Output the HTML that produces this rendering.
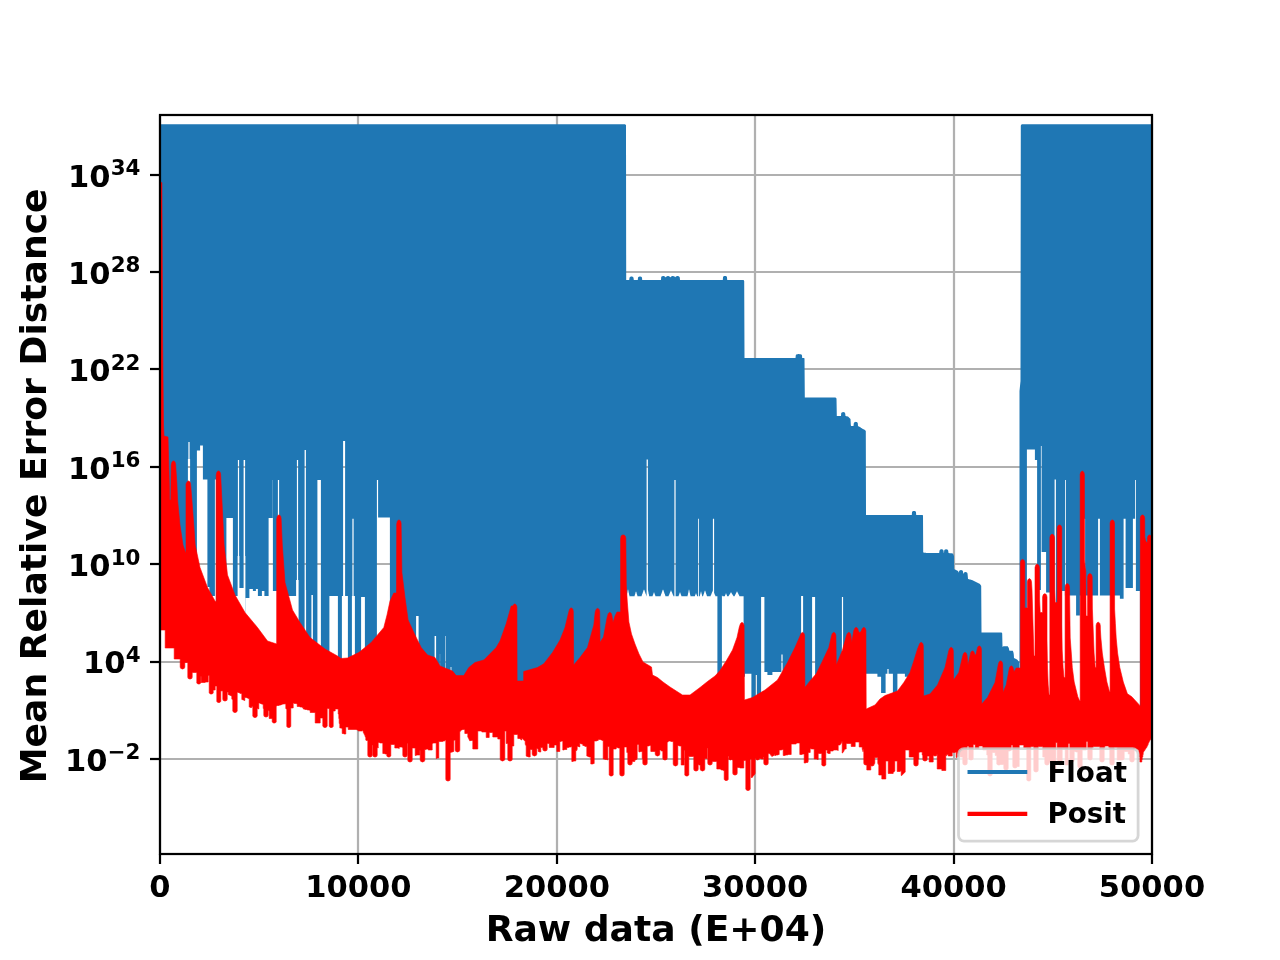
<!DOCTYPE html>
<html><head><meta charset="utf-8"><title>Mean Relative Error Distance</title>
<style>html,body{margin:0;padding:0;background:#fff}svg{display:block}</style></head>
<body>
<svg width="1280" height="960" viewBox="0 0 1280 960">
<defs><clipPath id="ax"><rect x="160" y="115.2" width="992" height="739.2"/></clipPath></defs>
<rect x="0" y="0" width="1280" height="960" fill="#fff"/>
<g stroke="#b0b0b0" stroke-width="2.22" fill="none">
<path d="M160 115V854"/>
<path d="M358 115V854"/>
<path d="M557 115V854"/>
<path d="M755 115V854"/>
<path d="M954 115V854"/>
<path d="M1152 115V854"/>
<path d="M160 759H1152"/>
<path d="M160 662H1152"/>
<path d="M160 564H1152"/>
<path d="M160 467H1152"/>
<path d="M160 369H1152"/>
<path d="M160 272H1152"/>
<path d="M160 175H1152"/>
</g>
<g clip-path="url(#ax)">
<g fill="#1f77b4">
<path d="M158 124.2 L625.2 124.2 L625.5 124.8 L626 125.2 L626.2 280 L629.2 280 L629.5 277.8 L629.8 277.2 L630.2 276.8 L630.8 276.8 L631 276.5 L632 276.5 L632.2 276.8 L632.8 276.8 L633.2 277.2 L633.5 277.8 L633.8 280 L637.8 280 L638 277.8 L638.2 277.2 L638.8 276.8 L639.2 276.8 L639.5 276.5 L640.5 276.5 L640.8 276.8 L641.2 276.8 L641.8 277.2 L642 277.8 L642.2 280 L661 280 L661.2 277 L661.5 276.8 L661.8 276.2 L662.5 276.2 L662.8 276 L663.8 276 L664 276.2 L664.5 276.2 L665.5 277.2 L665.8 277.2 L666.8 276.2 L667.2 276.2 L667.5 276 L668.5 276 L668.8 276.2 L669.2 276.2 L670.2 277.2 L670.5 277.2 L671.5 276.2 L672 276.2 L672.2 276 L673.2 276 L673.5 276.2 L674.2 276.2 L675.2 277.2 L676.2 276.2 L677 276.2 L677.2 276 L678 276 L678.2 276.2 L679 276.2 L679.2 276.8 L679.5 277 L679.8 277.5 L680 280 L722.8 280 L723 277.2 L723.5 276.2 L724 276.2 L724.2 276 L724.8 276 L725 275.8 L725.2 276 L725.8 276 L726 276.2 L726.5 276.2 L727 277.2 L727.2 280 L743.5 280 L743.8 280.2 L744 280.8 L744.2 281 L744.5 358 L795.5 358 L795.8 355.2 L796 354.8 L796.2 354.5 L796.8 354.5 L797 354.2 L798 354.2 L798.2 354 L799.2 354 L799.5 354.2 L800.8 354.2 L801 354.5 L801.5 354.5 L802 355.5 L802.2 358 L804.2 358 L804.5 358.8 L804.8 397.5 L835.5 397.5 L836.5 398.5 L836.8 416 L841 416 L841.2 413.2 L841.5 412.8 L841.8 412.5 L842 412.5 L842.2 412.2 L842.8 412.2 L843 412 L843.5 412 L843.8 412.2 L844.2 412.2 L844.5 412.5 L844.8 412.5 L845.2 413.5 L845.5 416 L845.8 416 L846 416.2 L847.2 416.2 L847.5 416.5 L848 416.5 L850.5 419 L850.8 424.8 L851 426 L853.5 426 L853.8 423.2 L854 422.8 L854.5 422.2 L854.8 422.2 L855 422 L855.5 422 L855.8 421.8 L856 421.8 L856.2 422 L856.8 422 L857 422.2 L857.2 422.2 L857.8 423.2 L858 426 L858.2 426.2 L858.5 426.2 L858.8 426.5 L859 426.5 L859.2 426.8 L859.5 426.8 L859.8 427 L860 427 L860.5 427.5 L860.8 427.5 L861.2 428 L861.5 428 L862 428.5 L862.2 428.5 L862.8 429 L863.2 429 L863.8 429.5 L864.2 429.5 L864.8 430 L865 430 L865.2 430.2 L865.5 430.8 L865.8 431 L866 515 L911.8 515 L912 512.2 L912.5 511.2 L913 511.2 L913.2 511 L913.8 511 L914 510.8 L914.2 511 L914.8 511 L915 511.2 L915.5 511.2 L916 512.2 L916.2 515 L922.5 515 L922.8 515.2 L923 515.8 L923.2 552.5 L924 552.5 L924.2 552.8 L926 552.8 L926.2 553 L939.2 553 L939.5 550.5 L939.8 550.2 L940 549.8 L940.2 549.5 L940.8 549.5 L941 549.2 L942 549.2 L942.2 549.5 L942.8 549.5 L943 549.8 L943.2 550.2 L943.5 550.5 L943.8 553 L944 553 L944.2 550.5 L944.5 550 L945 549.5 L945.5 549.5 L945.8 549.2 L946.5 549.2 L946.8 549.5 L947.2 549.5 L947.5 549.8 L947.8 549.8 L948.2 550.8 L948.5 553 L949.2 553 L949.5 553.2 L951.8 553.2 L952 553.5 L953 553.5 L953.2 554 L953.8 555.5 L954 556 L954.2 569 L954.8 569.5 L955.2 569.5 L955.8 570 L956.2 570 L956.8 570.5 L957.2 570.5 L957.8 571 L958 571 L958.5 572 L958.8 572.8 L959 571.5 L959.5 570.5 L959.8 570.5 L960 570.2 L960.5 570.2 L960.8 570 L961.2 570 L961.5 570.2 L962 570.2 L962.2 570.5 L962.5 570.5 L963 571.5 L963.2 574 L964 572.5 L964.2 572.5 L964.5 572.2 L965 572.2 L965.2 572 L965.8 572 L966 572.2 L966.5 572.2 L966.8 572.5 L967 572.5 L967.5 573.5 L967.8 576.5 L968 579 L968.5 579 L968.8 579.2 L969.2 579.2 L969.5 579.5 L970.5 579.5 L970.8 579.8 L971.2 579.8 L971.5 580 L972.2 580 L972.8 580.5 L973.2 580.5 L973.8 581 L974.2 581 L974.8 581.5 L975.2 581.5 L975.8 582 L976.2 582 L976.8 582.5 L977.2 582.5 L977.8 583 L978.2 583 L978.8 583.5 L979.2 583.5 L979.8 584 L980 584 L980.2 584.5 L980.5 584.8 L980.8 585.2 L981 585.5 L981.2 586 L981.5 632.5 L1001.5 632.5 L1002 633 L1002.2 633.5 L1002.5 647 L1003 646.5 L1003.2 646.5 L1003.5 646.2 L1007.8 646.2 L1008 646.8 L1008.2 647 L1008.8 648 L1009.2 650 L1009.5 650.8 L1012.8 650.8 L1013 651.2 L1013.5 652.8 L1013.8 654.8 L1014 658 L1014.2 658 L1014.8 658.5 L1015.2 658.5 L1015.8 659 L1016.2 659 L1016.8 659.5 L1017 659.5 L1018 660.5 L1018.2 661 L1019.2 662 L1019.2 675 L1017.4 675 L1017.4 678 L1011.9 678 L1011.9 672 L1010.6 672 L1010.6 678 L1009.4 678 L1009.4 684 L1008.4 684 L1008.4 690 L1007.1 690 L1007.1 696 L1004.4 696 L1004.4 702 L1004.1 702 L1004.1 696 L1003.1 696 L1003.1 702 L1002.9 702 L1002.9 696 L1002.1 696 L1002.1 702 L1001.9 702 L1001.9 696 L1001.6 696 L1001.6 672 L1000.9 672 L1000.9 666 L1000.4 666 L1000.4 672 L998.9 672 L998.9 678 L997.9 678 L997.9 684 L996.6 684 L996.6 690 L994.4 690 L994.4 696 L991.4 696 L991.4 702 L988.4 702 L988.4 708 L980.4 708 L980.4 666 L980.1 666 L980.1 654 L978.1 654 L978.1 660 L971.1 660 L971.1 666 L969.9 666 L969.9 672 L968.9 672 L968.9 666 L968.6 666 L968.6 672 L967.6 672 L967.6 666 L967.4 666 L967.4 672 L966.6 672 L966.6 666 L965.9 666 L965.9 660 L963.9 660 L963.9 666 L962.4 666 L962.4 675 L961.1 675 L961.1 678 L958.9 678 L958.9 684 L952.4 684 L952.4 672 L952.1 672 L952.1 660 L951.9 660 L951.9 654 L950.4 654 L950.4 660 L948.9 660 L948.9 666 L947.4 666 L947.4 672 L945.9 672 L945.9 678 L943.4 678 L943.4 684 L940.9 684 L940.9 690 L937.9 690 L937.9 696 L932.9 696 L932.9 702 L922.4 702 L922.4 678 L922.1 678 L922.1 654 L921.6 654 L921.6 648 L920.6 648 L920.6 654 L918.4 654 L918.4 660 L916.6 660 L916.6 666 L914.6 666 L914.6 672 L912.6 672 L912.6 678 L910.4 678 L910.4 684 L909.9 684 L909.9 676.8 L904.9 676.8 L904.9 673.8 L897.4 673.8 L897.4 696 L895.9 696 L895.9 702 L892.9 702 L892.9 673.8 L888.6 673.8 L888.6 669 L887.4 669 L887.4 673.8 L885.6 673.8 L885.6 693 L881.1 693 L881.1 676.8 L877.4 676.8 L877.4 673.8 L865.9 673.8 L865.9 714 L864.9 714 L864.9 648 L864.6 648 L864.6 636 L861.6 636 L861.6 642 L857.9 642 L857.9 636 L854.6 636 L854.6 642 L853.6 642 L853.6 648 L850.1 648 L850.1 642 L846.9 642 L846.9 648 L845.4 648 L845.4 654 L843.6 654 L843.6 660 L843.1 660 L843.1 597 L841.9 597 L841.9 660 L841.1 660 L841.1 666 L838.6 666 L838.6 672 L835.1 672 L835.1 666 L834.9 666 L834.9 648 L834.6 648 L834.6 642 L832.1 642 L832.1 648 L830.9 648 L830.9 654 L828.9 654 L828.9 660 L826.1 660 L826.1 666 L823.1 666 L823.1 675 L822.4 675 L822.4 672 L820.4 672 L820.4 678 L817.1 678 L817.1 684 L815.1 684 L815.1 597 L812.1 597 L812.1 690 L807.4 690 L807.4 696 L803.6 696 L803.6 660 L803.4 660 L803.4 642 L803.1 642 L803.1 596 L801.1 596 L801.1 642 L800.4 642 L800.4 648 L797.6 648 L797.6 654 L794.9 654 L794.9 660 L791.9 660 L791.9 666 L789.9 666 L789.9 672 L782.6 672 L782.6 654.5 L781.4 654.5 L781.4 672 L772.4 672 L772.4 675 L767.4 675 L767.4 672 L764.4 672 L764.4 597 L761.1 597 L761.1 702 L756.9 702 L756.9 675 L755.6 675 L755.6 702 L752.1 702 L752.1 708 L751.4 708 L751.4 673.8 L744.9 673.8 L744.9 676.8 L743.6 676.8 L743.6 596.2 L739.4 596.2 L739.4 595.8 L739.1 595.8 L739.1 595.2 L738.9 595.2 L738.9 594.8 L738.6 594.8 L738.6 594.2 L738.4 594.2 L738.4 593.8 L738.1 593.8 L738.1 593.2 L737.9 593.2 L737.9 592.8 L737.6 592.8 L737.6 592.2 L737.4 592.2 L737.4 591.8 L737.1 591.8 L737.1 591.2 L736.9 591.2 L736.9 591.8 L736.6 591.8 L736.6 592.2 L736.4 592.2 L736.4 592.8 L736.1 592.8 L736.1 593.2 L735.9 593.2 L735.9 593.8 L735.6 593.8 L735.6 594.2 L735.4 594.2 L735.4 594.8 L735.1 594.8 L735.1 595.2 L734.9 595.2 L734.9 595.8 L734.6 595.8 L734.6 596.2 L733.4 596.2 L733.4 595.8 L733.1 595.8 L733.1 595.5 L732.9 595.5 L732.9 595 L732.6 595 L732.6 594.5 L732.4 594.5 L732.4 594.2 L732.1 594.2 L732.1 593.8 L731.9 593.8 L731.9 593.5 L731.6 593.5 L731.6 593 L731.4 593 L731.4 592.5 L731.1 592.5 L731.1 592.2 L730.9 592.2 L730.9 592.5 L730.6 592.5 L730.6 593 L730.4 593 L730.4 593.5 L730.1 593.5 L730.1 593.8 L729.9 593.8 L729.9 594.2 L729.6 594.2 L729.6 594.5 L729.4 594.5 L729.4 595 L729.1 595 L729.1 595.5 L728.9 595.5 L728.9 595.8 L728.6 595.8 L728.6 596.2 L727.1 596.2 L727.1 595.8 L726.9 595.8 L726.9 595 L726.6 595 L726.6 594.5 L726.4 594.5 L726.4 593.8 L726.1 593.8 L726.1 593.2 L725.9 593.2 L725.9 593.8 L725.6 593.8 L725.6 594.5 L725.4 594.5 L725.4 595 L725.1 595 L725.1 595.8 L724.9 595.8 L724.9 596.2 L722.4 596.2 L722.4 595.8 L722.1 595.8 L722.1 595.5 L721.9 595.5 L721.9 678 L718.1 678 L718.1 684 L717.4 684 L717.4 596.2 L715.4 596.2 L715.4 595.5 L715.1 595.5 L715.1 595 L714.9 595 L714.9 594.5 L714.6 594.5 L714.6 593.8 L714.4 593.8 L714.4 593.2 L714.1 593.2 L714.1 518.8 L712.9 518.8 L712.9 590.8 L712.6 590.8 L712.6 591.5 L712.4 591.5 L712.4 592 L712.1 592 L712.1 592.5 L711.9 592.5 L711.9 593.2 L711.6 593.2 L711.6 593.8 L711.4 593.8 L711.4 594.5 L711.1 594.5 L711.1 595 L710.9 595 L710.9 595.5 L710.6 595.5 L710.6 596.2 L706.9 596.2 L706.9 595.5 L706.6 595.5 L706.6 594.8 L706.4 594.8 L706.4 594 L706.1 594 L706.1 593.2 L705.9 593.2 L705.9 592.5 L705.6 592.5 L705.6 591.8 L705.4 591.8 L705.4 591 L705.1 591 L705.1 590.2 L704.9 590.2 L704.9 591 L704.6 591 L704.6 591.8 L704.4 591.8 L704.4 592.5 L704.1 592.5 L704.1 593.2 L703.9 593.2 L703.9 594 L703.6 594 L703.6 594.8 L703.4 594.8 L703.4 595.5 L703.1 595.5 L703.1 596.2 L702.1 596.2 L702.1 595.2 L701.9 595.2 L701.9 594.2 L701.6 594.2 L701.6 593.2 L701.4 593.2 L701.4 592.2 L701.1 592.2 L701.1 591.2 L700.9 591.2 L700.9 592.2 L700.6 592.2 L700.6 593.2 L700.4 593.2 L700.4 594.2 L700.1 594.2 L700.1 595.2 L699.9 595.2 L699.9 596.2 L698.9 596.2 L698.9 518.8 L698.1 518.8 L698.1 596.2 L697.1 596.2 L697.1 595.8 L696.9 595.8 L696.9 595 L696.6 595 L696.6 594.5 L696.4 594.5 L696.4 593.8 L696.1 593.8 L696.1 593.2 L695.9 593.2 L695.9 593.8 L695.6 593.8 L695.6 594.5 L695.4 594.5 L695.4 595 L695.1 595 L695.1 595.8 L694.9 595.8 L694.9 596.2 L690.4 596.2 L690.4 595 L690.1 595 L690.1 593.8 L689.9 593.8 L689.9 592.8 L689.6 592.8 L689.6 591.5 L689.4 591.5 L689.4 590.2 L689.1 590.2 L689.1 589.2 L688.9 589.2 L688.9 590.2 L688.6 590.2 L688.6 591.5 L688.4 591.5 L688.4 592.8 L688.1 592.8 L688.1 593.8 L687.9 593.8 L687.9 595 L687.6 595 L687.6 596.2 L681.4 596.2 L681.4 595.5 L681.1 595.5 L681.1 594.8 L680.9 594.8 L680.9 594.2 L680.6 594.2 L680.6 593.5 L680.4 593.5 L680.4 592.8 L680.1 592.8 L680.1 592.2 L679.9 592.2 L679.9 592.8 L679.6 592.8 L679.6 593.5 L679.4 593.5 L679.4 594.2 L679.1 594.2 L679.1 594.8 L678.9 594.8 L678.9 595.5 L678.6 595.5 L678.6 596.2 L675.6 596.2 L675.6 480 L674.4 480 L674.4 596.2 L673.4 596.2 L673.4 595.5 L673.1 595.5 L673.1 595 L672.9 595 L672.9 594.5 L672.6 594.5 L672.6 593.8 L672.4 593.8 L672.4 593.2 L672.1 593.2 L672.1 592.5 L671.9 592.5 L671.9 592 L671.6 592 L671.6 591.5 L671.4 591.5 L671.4 590.8 L671.1 590.8 L671.1 590.2 L670.9 590.2 L670.9 590.8 L670.6 590.8 L670.6 591.5 L670.4 591.5 L670.4 592 L670.1 592 L670.1 592.5 L669.9 592.5 L669.9 593.2 L669.6 593.2 L669.6 593.8 L669.4 593.8 L669.4 594.5 L669.1 594.5 L669.1 595 L668.9 595 L668.9 595.5 L668.6 595.5 L668.6 596.2 L665.4 596.2 L665.4 595.5 L665.1 595.5 L665.1 594.8 L664.9 594.8 L664.9 594 L664.6 594 L664.6 593.5 L664.4 593.5 L664.4 592.8 L664.1 592.8 L664.1 592 L663.9 592 L663.9 591.2 L663.6 591.2 L663.6 590.5 L663.4 590.5 L663.4 590 L663.1 590 L663.1 589.2 L662.9 589.2 L662.9 590 L662.6 590 L662.6 590.5 L662.4 590.5 L662.4 591.2 L662.1 591.2 L662.1 592 L661.9 592 L661.9 592.8 L661.6 592.8 L661.6 593.5 L661.4 593.5 L661.4 594 L661.1 594 L661.1 594.8 L660.9 594.8 L660.9 595.5 L660.6 595.5 L660.6 596.2 L655.4 596.2 L655.4 595.5 L655.1 595.5 L655.1 594.8 L654.9 594.8 L654.9 594.2 L654.6 594.2 L654.6 593.5 L654.4 593.5 L654.4 592.8 L654.1 592.8 L654.1 592.2 L653.9 592.2 L653.9 592.8 L653.6 592.8 L653.6 593.5 L653.4 593.5 L653.4 594.2 L653.1 594.2 L653.1 594.8 L652.9 594.8 L652.9 595.5 L652.6 595.5 L652.6 596.2 L649.1 596.2 L649.1 595.2 L648.9 595.2 L648.9 594 L648.6 594 L648.6 592.8 L648.4 592.8 L648.4 591.5 L648.1 591.5 L648.1 590.2 L647.9 590.2 L647.9 459.5 L646.6 459.5 L646.6 596.2 L646.4 596.2 L646.4 595.5 L646.1 595.5 L646.1 594.8 L645.9 594.8 L645.9 594 L645.6 594 L645.6 593.5 L645.4 593.5 L645.4 592.8 L645.1 592.8 L645.1 592 L644.9 592 L644.9 591.2 L644.6 591.2 L644.6 590.5 L644.4 590.5 L644.4 590 L644.1 590 L644.1 589.2 L643.9 589.2 L643.9 590 L643.6 590 L643.6 590.5 L643.4 590.5 L643.4 591.2 L643.1 591.2 L643.1 592 L642.9 592 L642.9 592.8 L642.6 592.8 L642.6 593.5 L642.4 593.5 L642.4 594 L642.1 594 L642.1 594.8 L641.9 594.8 L641.9 595.5 L641.6 595.5 L641.6 596.2 L637.4 596.2 L637.4 595.2 L637.1 595.2 L637.1 594.5 L636.9 594.5 L636.9 593.8 L636.6 593.8 L636.6 592.8 L636.4 592.8 L636.4 592 L636.1 592 L636.1 591.2 L635.9 591.2 L635.9 592 L635.6 592 L635.6 592.8 L635.4 592.8 L635.4 593.8 L635.1 593.8 L635.1 594.5 L634.9 594.5 L634.9 595.2 L634.6 595.2 L634.6 596.2 L629.4 596.2 L629.4 595 L629.1 595 L629.1 593.8 L628.9 593.8 L628.9 592.8 L628.6 592.8 L628.6 591.5 L628.4 591.5 L628.4 590.2 L628.1 590.2 L628.1 589.2 L627.9 589.2 L627.9 590.2 L627.6 590.2 L627.6 591.5 L627.4 591.5 L627.4 592.8 L627.1 592.8 L627.1 593.8 L626.9 593.8 L626.9 595 L626.6 595 L626.6 596.2 L626.4 596.2 L626.4 612 L626.1 612 L626.1 606 L625.6 606 L625.6 600 L625.4 600 L625.4 594 L625.1 594 L625.1 582 L624.9 582 L624.9 558 L624.6 558 L624.6 546 L623.9 546 L623.9 540 L622.4 540 L622.4 546 L621.9 546 L621.9 618 L617.1 618 L617.1 624 L614.9 624 L614.9 630 L611.4 630 L611.4 624 L610.4 624 L610.4 618 L609.4 618 L609.4 624 L607.9 624 L607.9 630 L606.6 630 L606.6 636 L605.6 636 L605.6 642 L604.1 642 L604.1 648 L598.9 648 L598.9 642 L598.6 642 L598.6 618 L596.1 618 L596.1 624 L595.6 624 L595.6 630 L594.6 630 L594.6 636 L593.1 636 L593.1 642 L591.4 642 L591.4 648 L589.6 648 L589.6 654 L586.9 654 L586.9 660 L582.4 660 L582.4 666 L577.4 666 L577.4 675 L574.9 675 L574.9 672 L572.4 672 L572.4 636 L572.1 636 L572.1 618 L569.4 618 L569.4 624 L568.1 624 L568.1 630 L566.6 630 L566.6 636 L564.4 636 L564.4 642 L562.1 642 L562.1 648 L558.9 648 L558.9 654 L555.1 654 L555.1 660 L550.9 660 L550.9 666 L546.4 666 L546.4 672 L536.9 672 L536.9 678 L524.9 678 L524.9 690 L515.9 690 L515.9 630 L515.6 630 L515.6 612 L511.9 612 L511.9 618 L510.1 618 L510.1 624 L508.6 624 L508.6 630 L506.6 630 L506.6 636 L504.4 636 L504.4 642 L502.4 642 L502.4 648 L499.4 648 L499.4 654 L494.9 654 L494.9 660 L488.9 660 L488.9 666 L477.9 666 L477.9 672 L469.9 672 L469.9 675 L469.6 675 L469.6 678 L465.9 678 L465.9 684 L453.6 684 L453.6 678 L451.4 678 L451.4 667 L450.6 667 L450.6 678 L445.9 678 L445.9 636 L445.4 636 L445.4 678 L443.9 678 L443.9 672 L442.4 672 L442.4 675 L440.1 675 L440.1 654 L439.9 654 L439.9 675 L437.4 675 L437.4 672 L436.4 672 L436.4 666 L436.1 666 L436.1 636 L434.6 636 L434.6 666 L429.4 666 L429.4 660 L422.1 660 L422.1 654 L418.6 654 L418.6 616 L416.1 616 L416.1 648 L415.4 648 L415.4 642 L412.4 642 L412.4 636 L409.6 636 L409.6 630 L406.9 630 L406.9 624 L406.1 624 L406.1 618 L405.1 618 L405.1 612 L404.4 612 L404.4 606 L403.6 606 L403.6 600 L402.9 600 L402.9 594 L402.1 594 L402.1 588 L401.4 588 L401.4 582 L400.6 582 L400.6 570 L400.4 570 L400.4 552 L400.1 552 L400.1 534 L399.9 534 L399.9 528 L397.9 528 L397.9 582 L397.6 582 L397.6 600 L393.6 600 L393.6 606 L390.9 606 L390.9 612 L389.9 612 L389.9 517.5 L378.1 517.5 L378.1 480 L376.9 480 L376.9 642 L376.1 642 L376.1 648 L370.6 648 L370.6 654 L364.9 654 L364.9 597 L361.1 597 L361.1 660 L354.9 660 L354.9 596 L353.6 596 L353.6 518.8 L352.4 518.8 L352.4 596 L351.9 596 L351.9 666 L347.9 666 L347.9 596 L345.1 596 L345.1 441 L343.1 441 L343.1 596 L341.9 596 L341.9 666 L337.9 666 L337.9 596 L329.4 596 L329.4 660 L325.6 660 L325.6 654 L320.9 654 L320.9 480 L317.4 480 L317.4 648 L312.9 648 L312.9 595 L311.4 595 L311.4 648 L309.4 648 L309.4 642 L306.1 642 L306.1 590 L305.9 590 L305.9 450 L304.6 450 L304.6 636 L301.1 636 L301.1 630 L298.6 630 L298.6 580 L298.1 580 L298.1 460 L296.9 460 L296.9 580 L296.1 580 L296.1 596 L282.9 596 L282.9 576 L282.6 576 L282.6 570 L282.1 570 L282.1 564 L281.6 564 L281.6 558 L281.4 558 L281.4 552 L280.9 552 L280.9 546 L280.6 546 L280.6 540 L280.4 540 L280.4 534 L280.1 534 L280.1 528 L279.9 528 L279.9 522 L279.1 522 L279.1 480 L277.9 480 L277.9 648 L276.9 648 L276.9 591 L272.9 591 L272.9 518 L272.6 518 L272.6 480 L272.4 480 L272.4 518 L268.6 518 L268.6 596 L264.4 596 L264.4 591 L261.9 591 L261.9 596 L257.9 596 L257.9 589 L255.9 589 L255.9 591 L252.9 591 L252.9 589 L249.4 589 L249.4 598 L245.6 598 L245.6 624 L245.4 624 L245.4 556 L245.1 556 L245.1 460 L243.6 460 L243.6 588 L239.4 588 L239.4 556 L239.1 556 L239.1 460 L237.9 460 L237.9 556 L237.6 556 L237.6 596 L232.9 596 L232.9 518 L226.4 518 L226.4 582 L225.9 582 L225.9 576 L225.4 576 L225.4 570 L224.6 570 L224.6 564 L223.9 564 L223.9 558 L223.1 558 L223.1 552 L222.9 552 L222.9 546 L222.4 546 L222.4 540 L222.1 540 L222.1 534 L221.9 534 L221.9 528 L221.6 528 L221.6 522 L221.4 522 L221.4 516 L221.1 516 L221.1 510 L220.6 510 L220.6 504 L220.4 504 L220.4 498 L220.1 498 L220.1 492 L219.9 492 L219.9 486 L219.4 486 L219.4 480 L217.4 480 L217.4 606 L215.9 606 L215.9 479.5 L214.9 479.5 L214.9 596 L209.4 596 L209.4 587 L207.4 587 L207.4 479.5 L202.9 479.5 L202.9 445.5 L200.1 445.5 L200.1 450.5 L196.9 450.5 L196.9 564 L195.9 564 L195.9 558 L194.6 558 L194.6 552 L193.9 552 L193.9 546 L193.4 546 L193.4 540 L192.9 540 L192.9 534 L192.4 534 L192.4 528 L192.1 528 L192.1 522 L191.6 522 L191.6 516 L191.1 516 L191.1 510 L190.6 510 L190.6 504 L190.1 504 L190.1 459 L189.6 459 L189.6 442 L188.4 442 L188.4 459 L187.9 459 L187.9 492 L187.1 492 L187.1 558 L182.9 558 L182.9 552 L181.4 552 L181.4 546 L180.4 546 L180.4 540 L179.6 540 L179.6 534 L178.6 534 L178.6 528 L178.1 528 L178.1 522 L177.6 522 L177.6 516 L176.9 516 L176.9 510 L176.4 510 L176.4 504 L176.1 504 L176.1 498 L175.9 498 L175.9 492 L175.6 492 L175.6 486 L175.1 486 L175.1 480 L174.9 480 L174.9 474 L174.4 474 L174.4 468 L172.6 468 L172.6 474 L172.4 474 L172.4 486 L172.1 486 L172.1 504 L168.4 504 L168.4 498 L168.1 498 L168.1 486 L167.9 486 L167.9 480 L167.6 480 L167.6 468 L167.4 468 L167.4 462 L167.1 462 L167.1 450 L166.9 450 L166.9 444 L162.6 444 L162.6 438 L162.4 438 L162.4 426 L162.1 426 L162.1 402 L161.9 402 L161.9 378 L161.6 378 L161.6 354 L161.4 354 L161.4 312 L161.1 312 L161.1 258 L160.9 258 L160.9 198 L160.6 198 L160.6 192 L158 192Z"/>
<path d="M1019.5 391 L1020.5 381 L1020.8 125.8 L1021 125.2 L1021.2 125 L1021.5 124.5 L1021.8 124.2 L1154 124.2 L1154 552 L1150.6 552 L1150.6 546 L1149.6 546 L1149.6 540 L1149.4 540 L1149.4 546 L1148.6 546 L1148.6 552 L1147.6 552 L1147.6 546 L1147.4 546 L1147.4 552 L1146.4 552 L1146.4 546 L1146.1 546 L1146.1 552 L1145.1 552 L1145.1 546 L1143.6 546 L1143.6 528 L1143.4 528 L1143.4 522 L1141.6 522 L1141.6 714 L1139.9 714 L1139.9 591 L1135.9 591 L1135.9 480 L1135.1 480 L1135.1 518.8 L1132.9 518.8 L1132.9 588 L1125.6 588 L1125.6 518.8 L1123.6 518.8 L1123.6 598.8 L1119.9 598.8 L1119.9 595.5 L1099.9 595.5 L1099.9 518.8 L1098.1 518.8 L1098.1 595.5 L1085.1 595.5 L1085.1 518.8 L1083.9 518.8 L1083.9 595.5 L1079.9 595.5 L1079.9 615.5 L1076.1 615.5 L1076.1 595.5 L1065.9 595.5 L1065.9 480 L1065.1 480 L1065.1 595.5 L1064.9 595.5 L1064.9 591 L1061.9 591 L1061.9 672 L1061.6 672 L1061.6 666 L1061.4 666 L1061.4 660 L1061.1 660 L1061.1 654 L1060.9 654 L1060.9 642 L1060.6 642 L1060.6 534 L1058.4 534 L1058.4 612 L1055.9 612 L1055.9 479.5 L1054.6 479.5 L1054.6 612 L1053.9 612 L1053.9 606 L1053.6 606 L1053.6 594 L1053.4 594 L1053.4 546 L1052.9 546 L1052.9 540 L1051.6 540 L1051.6 546 L1051.1 546 L1051.1 702 L1050.1 702 L1050.1 696 L1049.9 696 L1049.9 592.5 L1046.1 592.5 L1046.1 552 L1041.6 552 L1041.6 446 L1040.9 446 L1040.9 590 L1037.1 590 L1037.1 460 L1034.9 460 L1034.9 449.5 L1026.9 449.5 L1026.9 612 L1023.6 612 L1023.6 570 L1021.6 570 L1021.6 672 L1019.9 672 L1019.9 675 L1019.5 675Z"/>
</g>
<path fill="#ff0000" stroke="#ff0000" stroke-width="0.6" stroke-linejoin="round" d="M159 182.6 L159 182.6 L161.9 182.6 L162.6 337 L163.5 425 L164 436 L168 437 L169.4 487 L169.5 500 L170.8 500 L171.2 465 L171.9 462.2 L172.7 461.2 L173.5 460.9 L174.3 461.2 L175.1 462.2 L175.6 464.2 L176.8 482 L177.6 500 L180 525 L183 545 L185 551 L186 553 L186 484 L186.9 482.2 L187.7 481.2 L188.5 480.9 L189.3 481.2 L190.1 482.2 L190.6 484.2 L191.9 500 L193.8 525 L195.2 545 L200 567.5 L207.5 587.5 L215 601 L216.2 602 L216.2 475 L216.9 472.2 L217.7 471.2 L218.5 470.9 L219.3 471.2 L220.1 472.2 L220.6 474.2 L221.9 500 L222.9 520 L224.1 545 L227.5 575 L235 595 L245 612.5 L257.5 627.5 L267.5 641 L276.7 644 L276.7 519 L277.4 516.2 L278.2 515.2 L279 514.9 L279.8 515.2 L280.6 516.2 L281.1 518.2 L282.3 545 L285 582.5 L292.5 610 L300 622.5 L310 637.5 L325 649 L337.5 656 L341 658.5 L347.5 658 L358.8 652.5 L365 647.5 L371.2 642.5 L377.5 635 L383.8 627.5 L387 615 L390 601 L393.8 593 L396.5 593 L396.7 524 L397.4 521.2 L398.2 520.2 L399 519.9 L399.8 520.2 L400.6 521.2 L401.1 523.2 L401.9 572.5 L405 597.5 L408.1 620 L415 635 L421.2 647.5 L427.5 655 L435 657.5 L440 666 L452.5 671 L456.2 675.6 L463.8 675.6 L468.8 667.5 L475 662.5 L483.8 660 L490 653.8 L496.2 647.5 L500 641 L506.2 623.8 L511.2 606 L512.7 606 L513.2 605.2 L514 604.2 L514.8 603.9 L515.6 604.2 L516.4 605.2 L516.9 607.2 L517.1 681 L523.6 681 L523.7 671.5 L537.5 667.5 L543.8 663.8 L552.5 652.5 L560 640 L565 627.5 L568 615 L569 611 L569.6 609.2 L570.4 608.2 L571.2 607.9 L572 608.2 L572.8 609.2 L573.3 611.2 L573.7 665 L580 657.5 L587.5 647.5 L593.8 625 L595.2 612 L596 609.7 L596.8 608.7 L597.6 608.4 L598.4 608.7 L599.2 609.7 L599.7 611.7 L600 642.5 L603.5 637 L607 618 L608.2 613.7 L609 612.7 L609.8 612.4 L610.6 612.7 L611.4 613.7 L611.9 615.7 L613 622.5 L615 616 L617 612 L620.6 612 L620.6 539 L621.1 536.2 L621.9 535.2 L623.2 534.9 L624.5 535.2 L625.3 536.2 L625.8 538.2 L626.3 585 L627.3 602 L628.9 622 L631.5 634 L635 644 L639 654 L643 662 L651.5 667 L652.5 675 L657.5 677.5 L663 682 L670 687 L682.5 695 L690 695 L700 687.5 L707.5 681.5 L715 676 L720 670.5 L726.2 661 L732.5 650 L737 637.5 L739.3 627 L740.4 623.8 L741.2 622.8 L742 622.5 L742.8 622.8 L743.6 623.8 L744.1 625.8 L744.4 700 L752.5 697.5 L765 690 L777.5 680 L787.5 662.5 L795 647.5 L800 636 L800.9 633.7 L801.7 632.7 L802.5 632.4 L803.3 632.7 L804.1 633.7 L804.6 635.7 L804.9 687.5 L810 681 L816.2 673.8 L822.5 661 L828.8 647.5 L831.5 636 L832.2 633.7 L833 632.7 L833.8 632.4 L834.6 632.7 L835.4 633.7 L835.9 635.7 L836.3 665 L842.5 650 L846.3 636 L847.2 633.7 L848 632.7 L848.8 632.4 L849.6 632.7 L850.4 633.7 L850.9 635.7 L851.8 642.5 L853.7 631 L854.6 628.7 L855.4 627.7 L856.2 627.4 L857 627.7 L857.8 628.7 L858.3 630.7 L859.6 633 L861.3 631 L862.2 628.7 L863 627.7 L863.8 627.4 L864.6 627.7 L865.4 628.7 L865.9 630.7 L866.2 709 L875 705 L880 699 L885 695.6 L897.5 691 L903.8 682.5 L910 672.5 L913.8 661 L917.5 649 L918.9 645.5 L919.6 643.7 L920.4 642.7 L921.2 642.4 L922 642.7 L922.8 643.7 L923.3 645.7 L923.6 696 L930 694 L937.5 685 L945 667.5 L948.7 651 L949.6 648.7 L950.4 647.7 L951.2 647.4 L952 647.7 L952.8 648.7 L953.3 650.7 L953.6 680 L958.8 672.5 L962.7 656 L963.4 653.7 L964.2 652.7 L965 652.4 L965.8 652.7 L966.6 653.7 L967.1 655.7 L968 665 L970.2 655 L970.9 652.2 L971.7 651.2 L972.5 650.9 L973.3 651.2 L974.1 652.2 L974.6 654.2 L975.8 655 L977 650 L977.7 647.2 L978.5 646.2 L979.3 645.9 L980.1 646.2 L980.9 647.2 L981.4 649.2 L981.7 704 L987.5 697.5 L995 682.5 L998.2 665 L999 662.2 L999.8 661.2 L1000.6 660.9 L1001.4 661.2 L1002.2 662.2 L1002.7 664.2 L1003 692.5 L1006.2 685 L1009 670 L1009.7 667.2 L1010.5 666.2 L1011.3 665.9 L1012.1 666.2 L1012.9 667.2 L1013.4 669.2 L1014 672 L1016.2 668 L1019.6 668 L1020.4 668 L1020.4 562.7 L1020.9 560.7 L1021.7 559.7 L1022.6 559.4 L1023.5 559.7 L1024.3 560.7 L1024.8 562.7 L1024.8 608 L1027 608 L1027.3 608 L1027.3 582 L1027.8 580 L1028.6 579 L1029.4 578.6 L1030.2 579 L1031 580 L1031.5 582 L1032 590 L1033.3 634 L1034 656 L1034.9 656 L1035 656 L1035 567.6 L1035.5 565.6 L1036.3 564.6 L1037.2 564.3 L1038.1 564.6 L1038.9 565.6 L1039.4 567.6 L1039.6 600 L1040.2 612.5 L1042.3 612.5 L1042.6 612.5 L1042.6 597 L1043.1 595 L1043.9 594 L1044.8 593.7 L1045.7 594 L1046.5 595 L1047 597 L1047 640 L1047.5 668 L1048.2 685 L1049.1 695 L1049.8 695 L1049.9 695 L1049.9 537.6 L1050.4 535.6 L1051.2 534.6 L1052.2 534.3 L1053.2 534.6 L1054 535.6 L1054.5 537.6 L1054.7 590 L1055.2 602.6 L1057 602.6 L1057.2 602.6 L1057.2 528.2 L1057.7 526.2 L1058.5 525.2 L1059.5 524.9 L1060.5 525.2 L1061.3 526.2 L1061.8 528.2 L1061.8 625 L1062.2 650 L1063.1 667.5 L1064 677.5 L1064.9 677.5 L1065.1 677.5 L1065.1 586.9 L1065.6 584.9 L1066.4 583.9 L1067.3 583.6 L1068.2 583.9 L1069 584.9 L1069.5 586.9 L1069.8 609 L1070.2 638 L1071.3 653 L1072.3 667.5 L1074.2 682 L1077.8 696.7 L1079.7 701 L1080.2 701 L1080.2 701 L1080.2 474.4 L1080.7 472.4 L1081.5 471.4 L1082.3 471.1 L1083.1 471.4 L1083.9 472.4 L1084.4 474.4 L1084.6 560 L1085.2 568 L1085.8 571 L1086.1 616 L1087.5 616 L1087.6 616 L1087.6 577 L1088.1 575 L1088.9 574 L1089.9 573.6 L1090.9 574 L1091.7 575 L1092.2 577 L1092.4 609 L1093.5 638 L1094.1 653 L1095.2 667.5 L1096 667.5 L1096.1 667.5 L1096.1 625.5 L1096.6 623.5 L1097.4 622.5 L1098.2 622.2 L1099 622.5 L1099.8 623.5 L1100.3 625.5 L1100.4 630 L1100.9 638 L1102.3 653 L1104.4 667.5 L1106.9 682 L1109.6 692 L1110.1 692 L1110.1 692 L1110.1 523.2 L1110.6 521.2 L1111.4 520.2 L1112.3 519.9 L1113.2 520.2 L1114 521.2 L1114.5 523.2 L1114.6 609 L1115.4 623.8 L1116.2 638 L1117.6 653 L1119.8 667.5 L1123.3 682 L1127.4 693.8 L1131.8 696.7 L1139.8 705.4 L1140.3 705.4 L1140.3 705.4 L1140.3 518.2 L1140.8 516.2 L1141.6 515.2 L1142.5 514.9 L1143.4 515.2 L1144.2 516.2 L1144.7 518.2 L1144.8 537 L1145.6 541 L1147.3 543 L1147.4 543 L1147.4 538.2 L1147.9 536.2 L1148.7 535.2 L1149.5 534.9 L1150.3 535.2 L1151.1 536.2 L1151.6 538.2 L1152 545 L1153 545 L1153 545 L1153 736 L1152.8 736 L1152.8 736.5 L1152.2 736.5 L1152.2 737.5 L1151.8 737.5 L1151.8 738 L1151.2 738 L1151.2 738.5 L1150.8 738.5 L1150.8 739.5 L1150.2 739.5 L1150.2 740 L1149.8 740 L1149.8 741 L1149.2 741 L1149.2 742 L1148.8 742 L1148.8 743 L1148.2 743 L1148.2 744.5 L1147.8 744.5 L1147.8 745.5 L1147.2 745.5 L1147.2 746.5 L1146.8 746.5 L1146.8 747.5 L1146.2 747.5 L1146.2 748 L1145.8 748 L1145.8 749 L1145.2 749 L1145.2 749.5 L1144.8 749.5 L1144.8 750.5 L1144.2 750.5 L1144.2 751 L1143.8 751 L1143.8 752 L1143.2 752 L1143.2 754.5 L1142.8 754.5 L1142.8 757 L1142.2 757 L1142.2 759.5 L1141.8 759.5 L1141.8 762 L1139.8 762 L1139.8 757 L1139.2 757 L1139.2 752 L1138.8 752 L1138.8 750 L1138.2 750 L1138.2 749.5 L1137.2 749.5 L1137.2 749 L1135.8 749 L1135.8 748.5 L1134.2 748.5 L1134.2 760.5 L1133.8 760.5 L1133.8 761.5 L1132.8 761.5 L1132.8 762 L1131.2 762 L1131.2 761.5 L1130.2 761.5 L1130.2 760.5 L1129.8 760.5 L1129.8 754 L1128.2 754 L1128.2 751.5 L1124.2 751.5 L1124.2 758.5 L1123.8 758.5 L1123.8 759.5 L1122.8 759.5 L1122.8 760 L1117.2 760 L1117.2 747.5 L1114.2 747.5 L1114.2 763.5 L1113.8 763.5 L1113.8 764.5 L1112.8 764.5 L1112.8 765 L1111.2 765 L1111.2 764.5 L1110.2 764.5 L1110.2 763.5 L1109.8 763.5 L1109.8 747.5 L1108.8 747.5 L1108.8 746 L1104.8 746 L1104.8 747.5 L1104.2 747.5 L1104.2 760.5 L1103.8 760.5 L1103.8 761.5 L1102.8 761.5 L1102.8 762 L1101.2 762 L1101.2 761.5 L1100.2 761.5 L1100.2 760.5 L1099.8 760.5 L1099.8 746.5 L1093.2 746.5 L1093.2 747.5 L1092.2 747.5 L1092.2 758.5 L1091.8 758.5 L1091.8 759.5 L1090.8 759.5 L1090.8 760 L1089.2 760 L1089.2 759.5 L1088.2 759.5 L1088.2 758.5 L1087.8 758.5 L1087.8 741.5 L1086.2 741.5 L1086.2 750 L1082.2 750 L1082.2 766.5 L1081.8 766.5 L1081.8 767.5 L1080.8 767.5 L1080.8 768 L1079.2 768 L1079.2 767.5 L1078.2 767.5 L1078.2 766.5 L1077.8 766.5 L1077.8 752 L1075.8 752 L1075.8 751.5 L1074.2 751.5 L1074.2 760.5 L1073.8 760.5 L1073.8 761.5 L1072.8 761.5 L1072.8 762 L1071.2 762 L1071.2 761.5 L1070.2 761.5 L1070.2 760.5 L1069.8 760.5 L1069.8 743.5 L1068.2 743.5 L1068.2 765 L1065.2 765 L1065.2 748.5 L1062.2 748.5 L1062.2 763.5 L1061.8 763.5 L1061.8 764.5 L1060.8 764.5 L1060.8 765 L1059.2 765 L1059.2 764.5 L1058.2 764.5 L1058.2 763.5 L1057.8 763.5 L1057.8 760 L1057.2 760 L1057.2 742.5 L1055.8 742.5 L1055.8 769 L1055.2 769 L1055.2 769.5 L1054.8 769.5 L1054.8 770 L1052.8 770 L1052.8 769.5 L1052.2 769.5 L1052.2 769 L1051.8 769 L1051.8 762.5 L1049.2 762.5 L1049.2 763.5 L1048.8 763.5 L1048.8 764.5 L1047.8 764.5 L1047.8 765 L1046.2 765 L1046.2 764.5 L1045.2 764.5 L1045.2 763.5 L1044.8 763.5 L1044.8 757 L1042.8 757 L1042.8 746.5 L1038.2 746.5 L1038.2 770.5 L1037.8 770.5 L1037.8 771.5 L1036.8 771.5 L1036.8 772 L1035.2 772 L1035.2 771.5 L1034.2 771.5 L1034.2 770.5 L1033.8 770.5 L1033.8 746.5 L1030.8 746.5 L1030.8 780 L1030.2 780 L1030.2 780.5 L1029.8 780.5 L1029.8 781 L1027.8 781 L1027.8 780.5 L1027.2 780.5 L1027.2 780 L1026.8 780 L1026.8 748 L1023.8 748 L1023.8 745 L1019.2 745 L1019.2 766.5 L1016.8 766.5 L1016.8 767.5 L1015.8 767.5 L1015.8 768 L1014.2 768 L1014.2 767.5 L1013.2 767.5 L1013.2 766.5 L1012.8 766.5 L1012.8 745 L1011.2 745 L1011.2 750.5 L1010.2 750.5 L1010.2 751 L1008.2 751 L1008.2 768.5 L1007.8 768.5 L1007.8 769.5 L1006.8 769.5 L1006.8 770 L1005.2 770 L1005.2 769.5 L1004.2 769.5 L1004.2 768.5 L1003.8 768.5 L1003.8 764.5 L999.8 764.5 L999.8 765 L997.8 765 L997.8 764.5 L997.2 764.5 L997.2 764 L996.8 764 L996.8 755.5 L995.2 755.5 L995.2 752.5 L992.2 752.5 L992.2 774.5 L991.8 774.5 L991.8 775.5 L990.8 775.5 L990.8 776 L989.2 776 L989.2 775.5 L988.2 775.5 L988.2 774.5 L987.8 774.5 L987.8 755 L986.8 755 L986.8 750 L982.8 750 L982.8 746 L978.8 746 L978.8 748.5 L975.2 748.5 L975.2 744.5 L973.2 744.5 L973.2 758.5 L972.8 758.5 L972.8 759.5 L971.8 759.5 L971.8 760 L970.2 760 L970.2 759.5 L969.2 759.5 L969.2 758.5 L968.8 758.5 L968.8 746 L967.2 746 L967.2 763.5 L966.8 763.5 L966.8 764.5 L965.8 764.5 L965.8 765 L964.2 765 L964.2 764.5 L963.2 764.5 L963.2 763.5 L962.8 763.5 L962.8 757 L960.2 757 L960.2 755.5 L959.2 755.5 L959.2 756 L958.8 756 L958.8 756.5 L957.8 756.5 L957.8 757 L956.8 757 L956.8 757.5 L956.2 757.5 L956.2 752 L955.2 752 L955.2 752.5 L952.2 752.5 L952.2 756 L948.2 756 L948.2 754.5 L946.8 754.5 L946.8 755.5 L945.8 755.5 L945.8 770.5 L941.8 770.5 L941.8 769 L937.2 769 L937.2 754.5 L936.8 754.5 L936.8 755.5 L935.8 755.5 L935.8 756 L934.2 756 L934.2 755.5 L933.2 755.5 L933.2 762 L929.2 762 L929.2 756 L927.2 756 L927.2 759.5 L926.8 759.5 L926.8 760.5 L925.8 760.5 L925.8 761 L924.2 761 L924.2 760.5 L923.2 760.5 L923.2 759.5 L922.8 759.5 L922.8 755 L922.2 755 L922.2 752 L919.2 752 L919.2 752.5 L918.8 752.5 L918.8 759 L918.2 759 L918.2 764.5 L917.8 764.5 L917.8 765.5 L916.8 765.5 L916.8 766 L915.2 766 L915.2 765.5 L914.2 765.5 L914.2 764.5 L913.8 764.5 L913.8 757 L909.2 757 L909.2 750 L905.2 750 L905.2 772 L904.8 772 L904.8 772.5 L904.2 772.5 L904.2 773 L903.8 773 L903.8 773.5 L903.2 773.5 L903.2 774 L902.8 774 L902.8 774.5 L902.2 774.5 L902.2 775 L901.8 775 L901.8 775.5 L901.2 775.5 L901.2 770.5 L900.8 770.5 L900.8 771 L900.2 771 L900.2 771.5 L897.2 771.5 L897.2 761 L894.8 761 L894.8 771 L894.2 771 L894.2 772 L893.2 772 L893.2 773.5 L888.2 773.5 L888.2 761 L885.8 761 L885.8 779 L881.8 779 L881.8 775 L878.8 775 L878.8 764.5 L878.2 764.5 L878.2 763.5 L877.8 763.5 L877.8 757.5 L874.8 757.5 L874.8 763.5 L874.2 763.5 L874.2 764.5 L873.8 764.5 L873.8 765.5 L872.8 765.5 L872.8 766 L871.2 766 L871.2 765.5 L870.8 765.5 L870.8 770 L866.8 770 L866.8 765 L865.2 765 L865.2 764.5 L864.2 764.5 L864.2 763.5 L863.8 763.5 L863.8 749.5 L863.2 749.5 L863.2 751.5 L862.8 751.5 L862.8 749.5 L862.2 749.5 L862.2 747 L859.2 747 L859.2 742 L855.2 742 L855.2 746.5 L851.2 746.5 L851.2 743.5 L846.2 743.5 L846.2 749 L844.8 749 L844.8 749.5 L844.2 749.5 L844.2 750.5 L843.8 750.5 L843.8 751.5 L843.2 751.5 L843.2 752 L842.8 752 L842.8 753 L842.2 753 L842.2 741.5 L841.8 741.5 L841.8 742.5 L841.2 742.5 L841.2 743.5 L840.8 743.5 L840.8 744 L840.2 744 L840.2 745 L838.2 745 L838.2 750.5 L837.8 750.5 L837.8 750 L833.2 750 L833.2 751 L830.2 751 L830.2 753.5 L828.2 753.5 L828.2 753 L827.2 753 L827.2 750 L825.8 750 L825.8 765 L825.2 765 L825.2 765.5 L824.8 765.5 L824.8 766 L822.8 766 L822.8 765.5 L822.2 765.5 L822.2 765 L821.8 765 L821.8 753.5 L818.2 753.5 L818.2 759.5 L817.2 759.5 L817.2 759 L814.2 759 L814.2 749 L811.2 749 L811.2 748.5 L810.2 748.5 L810.2 752.5 L808.2 752.5 L808.2 761.5 L807.8 761.5 L807.8 762.5 L805.8 762.5 L805.8 763 L804.2 763 L804.2 754 L802.2 754 L802.2 754.5 L799.8 754.5 L799.8 743 L796.2 743 L796.2 744 L791.2 744 L791.2 754.5 L787.8 754.5 L787.8 755 L785.2 755 L785.2 755.5 L783.2 755.5 L783.2 749.5 L781.8 749.5 L781.8 750 L779.2 750 L779.2 754.5 L778.2 754.5 L778.2 755 L775.8 755 L775.8 755.5 L774.8 755.5 L774.8 754.5 L774.2 754.5 L774.2 755.5 L773.2 755.5 L773.2 756 L772.2 756 L772.2 756.5 L771.8 756.5 L771.8 755.5 L770.8 755.5 L770.8 754.5 L770.2 754.5 L770.2 754 L769.8 754 L769.8 753.5 L768.2 753.5 L768.2 763.5 L767.8 763.5 L767.8 764.5 L766.8 764.5 L766.8 765 L765.2 765 L765.2 764.5 L764.2 764.5 L764.2 763.5 L763.8 763.5 L763.8 757 L763.2 757 L763.2 759 L761.2 759 L761.2 758.5 L759.2 758.5 L759.2 759.5 L758.2 759.5 L758.2 760 L756.8 760 L756.8 759.5 L755.8 759.5 L755.8 758.5 L755.2 758.5 L755.2 773.5 L754.8 773.5 L754.8 774.5 L754.2 774.5 L754.2 775 L753.8 775 L753.8 775.5 L753.2 775.5 L753.2 776 L752.8 776 L752.8 777 L752.2 777 L752.2 777.5 L751.2 777.5 L751.2 759 L750.2 759 L750.2 789 L749.8 789 L749.8 790 L748.8 790 L748.8 790.5 L747.2 790.5 L747.2 790 L746.2 790 L746.2 789 L745.8 789 L745.8 760.5 L743.8 760.5 L743.8 768 L739.8 768 L739.8 767.5 L737.2 767.5 L737.2 773.5 L736.8 773.5 L736.8 774.5 L735.8 774.5 L735.8 775 L734.2 775 L734.2 774.5 L733.2 774.5 L733.2 773.5 L732.8 773.5 L732.8 760 L732.2 760 L732.2 759.5 L731.2 759.5 L731.2 760 L729.8 760 L729.8 759.5 L728.8 759.5 L728.8 756 L728.2 756 L728.2 779.5 L727.8 779.5 L727.8 780 L727.2 780 L727.2 780.5 L725.2 780.5 L725.2 780 L724.8 780 L724.8 779.5 L724.2 779.5 L724.2 770.5 L723.2 770.5 L723.2 770 L721.2 770 L721.2 769.5 L720.8 769.5 L720.8 769 L716.8 769 L716.8 761.5 L712.2 761.5 L712.2 763.5 L711.8 763.5 L711.8 764.5 L710.8 764.5 L710.8 765 L709.2 765 L709.2 764.5 L708.2 764.5 L708.2 763.5 L707.8 763.5 L707.8 748 L707.2 748 L707.2 758.5 L704.8 758.5 L704.8 769.5 L704.2 769.5 L704.2 770.5 L703.2 770.5 L703.2 771 L701.8 771 L701.8 770.5 L700.8 770.5 L700.8 769.5 L700.2 769.5 L700.2 765 L698.8 765 L698.8 764.5 L698.2 764.5 L698.2 769.5 L697.8 769.5 L697.8 770.5 L696.8 770.5 L696.8 771 L695.2 771 L695.2 770.5 L694.2 770.5 L694.2 769.5 L693.8 769.5 L693.8 756.5 L689.2 756.5 L689.2 756 L688.8 756 L688.8 775 L688.2 775 L688.2 775.5 L687.8 775.5 L687.8 776 L685.8 776 L685.8 775.5 L685.2 775.5 L685.2 775 L684.8 775 L684.8 750.5 L684.2 750.5 L684.2 765 L681.2 765 L681.2 746 L679.2 746 L679.2 745.5 L677.8 745.5 L677.8 764.5 L677.2 764.5 L677.2 765.5 L676.2 765.5 L676.2 766 L674.8 766 L674.8 765.5 L673.8 765.5 L673.8 764.5 L673.2 764.5 L673.2 741.5 L670.8 741.5 L670.8 741 L668.2 741 L668.2 742 L667.2 742 L667.2 758.5 L666.8 758.5 L666.8 759.5 L665.8 759.5 L665.8 760 L664.2 760 L664.2 759.5 L663.2 759.5 L663.2 758.5 L662.8 758.5 L662.8 751 L661.2 751 L661.2 750 L659.8 750 L659.8 754.5 L659.2 754.5 L659.2 755.5 L658.2 755.5 L658.2 756 L656.8 756 L656.8 755.5 L655.8 755.5 L655.8 754.5 L655.2 754.5 L655.2 751.5 L650.8 751.5 L650.8 745.5 L649.2 745.5 L649.2 746 L647.2 746 L647.2 763.5 L646.8 763.5 L646.8 764.5 L645.8 764.5 L645.8 765 L644.2 765 L644.2 764.5 L643.2 764.5 L643.2 763.5 L642.8 763.5 L642.8 758.5 L642.2 758.5 L642.2 751.5 L640.2 751.5 L640.2 752 L639.2 752 L639.2 751.5 L638.8 751.5 L638.8 744.5 L637.2 744.5 L637.2 758.5 L636.8 758.5 L636.8 759.5 L635.8 759.5 L635.8 760 L634.8 760 L634.8 761.5 L632.2 761.5 L632.2 763.5 L631.8 763.5 L631.8 764.5 L630.8 764.5 L630.8 765 L629.2 765 L629.2 764.5 L628.2 764.5 L628.2 763.5 L627.8 763.5 L627.8 752.5 L626.8 752.5 L626.8 747 L624.2 747 L624.2 774.5 L623.8 774.5 L623.8 775.5 L622.8 775.5 L622.8 776 L621.2 776 L621.2 775.5 L620.2 775.5 L620.2 774.5 L619.8 774.5 L619.8 748 L617.8 748 L617.8 747.5 L616.2 747.5 L616.2 749 L613.2 749 L613.2 775 L612.8 775 L612.8 775.5 L612.2 775.5 L612.2 776 L610.2 776 L610.2 775.5 L609.8 775.5 L609.8 775 L609.2 775 L609.2 746.5 L607.8 746.5 L607.8 760 L607.2 760 L607.2 759.5 L604.8 759.5 L604.8 759 L603.2 759 L603.2 740.5 L602.2 740.5 L602.2 740 L600.8 740 L600.8 739.5 L598.2 739.5 L598.2 740.5 L596.8 740.5 L596.8 741 L594.2 741 L594.2 763.5 L593.2 763.5 L593.2 764 L590.8 764 L590.8 757 L588.8 757 L588.8 756.5 L587.8 756.5 L587.8 756 L586.8 756 L586.8 746.5 L585.2 746.5 L585.2 746 L584.2 746 L584.2 745.5 L582.8 745.5 L582.8 744 L581.2 744 L581.2 743.5 L580.2 743.5 L580.2 743 L579.8 743 L579.8 747 L579.2 747 L579.2 746.5 L577.8 746.5 L577.8 746 L577.2 746 L577.2 749.5 L576.8 749.5 L576.8 750.5 L575.8 750.5 L575.8 761 L573.2 761 L573.2 761.5 L571.8 761.5 L571.8 746.5 L571.2 746.5 L571.2 747 L568.8 747 L568.8 747.5 L566.8 747.5 L566.8 749.5 L564.2 749.5 L564.2 750 L562.8 750 L562.8 741 L561.2 741 L561.2 741.5 L559.8 741.5 L559.8 751.5 L556.8 751.5 L556.8 745 L554.2 745 L554.2 747.5 L549.2 747.5 L549.2 743.5 L547.2 743.5 L547.2 749.5 L546.8 749.5 L546.8 750.5 L545.8 750.5 L545.8 751 L544.2 751 L544.2 750.5 L543.2 750.5 L543.2 749.5 L542.8 749.5 L542.8 747.5 L541.2 747.5 L541.2 747 L540.8 747 L540.8 752 L539.2 752 L539.2 751.5 L538.2 751.5 L538.2 749 L537.8 749 L537.8 748.5 L536.8 748.5 L536.8 754.5 L536.2 754.5 L536.2 755.5 L535.2 755.5 L535.2 756 L533.8 756 L533.8 755.5 L532.8 755.5 L532.8 754.5 L532.2 754.5 L532.2 749.5 L530.2 749.5 L530.2 757 L528.2 757 L528.2 756.5 L526.8 756.5 L526.8 756 L526.2 756 L526.2 745.5 L525.8 745.5 L525.8 744.5 L525.2 744.5 L525.2 741 L524.8 741 L524.8 740.5 L524.2 740.5 L524.2 740 L523.8 740 L523.8 739.5 L523.2 739.5 L523.2 739 L522.8 739 L522.8 738.5 L522.2 738.5 L522.2 738 L521.8 738 L521.8 740 L521.2 740 L521.2 739.5 L520.8 739.5 L520.8 739 L520.2 739 L520.2 738.5 L517.8 738.5 L517.8 734.5 L513.8 734.5 L513.8 746 L512.2 746 L512.2 759.5 L511.8 759.5 L511.8 760.5 L510.8 760.5 L510.8 761 L509.2 761 L509.2 760.5 L508.2 760.5 L508.2 759.5 L507.8 759.5 L507.8 743.5 L506.2 743.5 L506.2 731 L504.8 731 L504.8 759.5 L504.2 759.5 L504.2 760.5 L503.2 760.5 L503.2 761 L501.8 761 L501.8 760.5 L500.8 760.5 L500.8 759.5 L500.2 759.5 L500.2 739 L497.8 739 L497.8 737 L492.8 737 L492.8 732.5 L489.2 732.5 L489.2 737.5 L486.2 737.5 L486.2 732 L481.8 732 L481.8 731 L477.8 731 L477.8 749 L472.8 749 L472.8 740.5 L470.2 740.5 L470.2 741 L469.8 741 L469.8 740 L469.2 740 L469.2 739 L468.8 739 L468.8 738 L468.2 738 L468.2 737 L467.8 737 L467.8 733.5 L464.8 733.5 L464.8 729.5 L462.2 729.5 L462.2 730 L460.8 730 L460.8 731 L460.2 731 L460.2 731.5 L459.8 731.5 L459.8 750.5 L459.2 750.5 L459.2 751.5 L458.2 751.5 L458.2 752 L456.8 752 L456.8 751.5 L455.8 751.5 L455.8 750.5 L455.2 750.5 L455.2 740 L454.2 740 L454.2 740.5 L453.8 740.5 L453.8 751.5 L452.8 751.5 L452.8 752 L451.2 752 L451.2 752.5 L450.2 752.5 L450.2 779.5 L449.8 779.5 L449.8 780.5 L448.8 780.5 L448.8 781 L447.2 781 L447.2 780.5 L446.2 780.5 L446.2 779.5 L445.8 779.5 L445.8 740 L444.8 740 L444.8 741 L442.8 741 L442.8 741.5 L438.8 741.5 L438.8 758 L436.8 758 L436.8 758.5 L436.2 758.5 L436.2 743 L432.8 743 L432.8 743.5 L432.2 743.5 L432.2 750 L428.2 750 L428.2 749 L426.2 749 L426.2 749.5 L424.8 749.5 L424.8 760.5 L424.2 760.5 L424.2 761.5 L423.2 761.5 L423.2 762 L421.8 762 L421.8 761.5 L420.8 761.5 L420.8 760.5 L420.2 760.5 L420.2 750.5 L419.8 750.5 L419.8 755 L416.2 755 L416.2 755.5 L415.2 755.5 L415.2 748 L412.2 748 L412.2 760.5 L411.8 760.5 L411.8 761.5 L410.8 761.5 L410.8 762 L409.2 762 L409.2 761.5 L408.2 761.5 L408.2 760.5 L407.8 760.5 L407.8 743.5 L407.2 743.5 L407.2 755.5 L406.8 755.5 L406.8 756.5 L405.8 756.5 L405.8 757 L404.2 757 L404.2 756.5 L403.2 756.5 L403.2 755.5 L402.8 755.5 L402.8 747.5 L402.2 747.5 L402.2 747 L399.2 747 L399.2 748.5 L398.8 748.5 L398.8 748 L394.8 748 L394.8 744.5 L390.8 744.5 L390.8 756 L390.2 756 L390.2 756.5 L389.8 756.5 L389.8 757 L387.8 757 L387.8 756.5 L387.2 756.5 L387.2 756 L386.8 756 L386.8 754 L384.8 754 L384.8 753.5 L382.8 753.5 L382.8 743 L379.8 743 L379.8 742.5 L378.2 742.5 L378.2 748 L377.8 748 L377.8 747.5 L377.2 747.5 L377.2 755.5 L376.8 755.5 L376.8 756.5 L375.8 756.5 L375.8 757 L374.2 757 L374.2 756.5 L373.2 756.5 L373.2 755.5 L372.8 755.5 L372.8 745 L372.2 745 L372.2 755.5 L371.8 755.5 L371.8 756.5 L370.8 756.5 L370.8 757 L369.2 757 L369.2 756.5 L368.2 756.5 L368.2 755.5 L367.8 755.5 L367.8 740.5 L366.2 740.5 L366.2 740 L365.8 740 L365.8 737 L365.2 737 L365.2 735.5 L364.8 735.5 L364.8 734.5 L364.2 734.5 L364.2 733.5 L363.8 733.5 L363.8 732.5 L363.2 732.5 L363.2 731 L362.8 731 L362.8 730 L362.2 730 L362.2 731 L358.2 731 L358.2 730 L356.8 730 L356.8 729.5 L348.2 729.5 L348.2 727 L345.8 727 L345.8 734 L343.8 734 L343.8 733.5 L342.2 733.5 L342.2 728.5 L341.8 728.5 L341.8 728 L339.8 728 L339.8 723.5 L339.2 723.5 L339.2 718.5 L338.8 718.5 L338.8 714 L338.2 714 L338.2 709 L335.2 709 L335.2 711 L333.2 711 L333.2 726.5 L332.8 726.5 L332.8 727 L332.2 727 L332.2 727.5 L330.2 727.5 L330.2 727 L329.8 727 L329.8 726.5 L329.2 726.5 L329.2 708.5 L327.2 708.5 L327.2 726 L326.8 726 L326.8 727 L325.8 727 L325.8 727.5 L324.2 727.5 L324.2 727 L323.2 727 L323.2 726 L322.8 726 L322.8 718 L320.2 718 L320.2 723 L315.2 723 L315.2 712.5 L310.2 712.5 L310.2 710.5 L309.8 710.5 L309.8 710 L307.2 710 L307.2 709.5 L304.8 709.5 L304.8 709 L303.2 709 L303.2 707.5 L302.2 707.5 L302.2 707 L299.8 707 L299.8 706.5 L297.2 706.5 L297.2 704 L296.8 704 L296.8 703.5 L294.2 703.5 L294.2 703 L293.2 703 L293.2 708 L290.8 708 L290.8 726.5 L290.2 726.5 L290.2 727 L289.8 727 L289.8 727.5 L287.8 727.5 L287.8 727 L287.2 727 L287.2 726.5 L286.8 726.5 L286.8 709 L286.2 709 L286.2 708.5 L285.8 708.5 L285.8 704 L285.2 704 L285.2 703.5 L284.8 703.5 L284.8 704 L282.2 704 L282.2 704.5 L281.2 704.5 L281.2 705 L279.2 705 L279.2 705.5 L276.8 705.5 L276.8 706 L276.2 706 L276.2 722 L275.8 722 L275.8 722.5 L275.2 722.5 L275.2 723 L273.2 723 L273.2 722.5 L272.8 722.5 L272.8 722 L272.2 722 L272.2 718.5 L269.2 718.5 L269.2 711 L268.8 711 L268.8 710.5 L268.2 710.5 L268.2 715.5 L267.8 715.5 L267.8 716.5 L266.8 716.5 L266.8 717 L265.2 717 L265.2 716.5 L264.2 716.5 L264.2 715.5 L263.8 715.5 L263.8 708.5 L263.2 708.5 L263.2 704.5 L262.8 704.5 L262.8 704 L261.2 704 L261.2 703.5 L260.2 703.5 L260.2 703 L258.8 703 L258.8 709 L258.2 709 L258.2 708.5 L257.2 708.5 L257.2 716 L256.8 716 L256.8 717 L255.8 717 L255.8 717.5 L254.2 717.5 L254.2 717 L253.2 717 L253.2 716 L252.8 716 L252.8 706.5 L251.8 706.5 L251.8 707.5 L250.2 707.5 L250.2 707 L249.2 707 L249.2 698.5 L248.2 698.5 L248.2 698 L246.8 698 L246.8 697.5 L245.2 697.5 L245.2 697 L244.8 697 L244.8 700.5 L244.2 700.5 L244.2 700 L242.8 700 L242.8 699.5 L241.8 699.5 L241.8 693.5 L240.2 693.5 L240.2 693 L239.2 693 L239.2 692.5 L237.8 692.5 L237.8 692 L237.2 692 L237.2 711 L236.8 711 L236.8 712 L235.8 712 L235.8 712.5 L234.2 712.5 L234.2 712 L233.2 712 L233.2 711 L232.8 711 L232.8 699.5 L232.2 699.5 L232.2 699 L231.8 699 L231.8 696 L231.2 696 L231.2 695.5 L230.2 695.5 L230.2 695 L228.8 695 L228.8 694.5 L228.2 694.5 L228.2 692 L227.2 692 L227.2 699.5 L226.8 699.5 L226.8 700.5 L225.8 700.5 L225.8 701 L224.2 701 L224.2 700.5 L223.2 700.5 L223.2 699.5 L222.8 699.5 L222.8 691 L222.2 691 L222.2 690.5 L221.8 690.5 L221.8 691 L220.8 691 L220.8 701.5 L220.2 701.5 L220.2 702 L219.8 702 L219.8 702.5 L217.8 702.5 L217.8 702 L217.2 702 L217.2 701.5 L216.8 701.5 L216.8 686 L215.2 686 L215.2 690 L213.2 690 L213.2 693 L212.8 693 L212.8 693.5 L212.2 693.5 L212.2 694 L210.2 694 L210.2 693.5 L209.8 693.5 L209.8 693 L209.2 693 L209.2 675.5 L208.2 675.5 L208.2 682 L205.2 682 L205.2 682.5 L201.2 682.5 L201.2 676.5 L200.8 676.5 L200.8 683 L200.2 683 L200.2 683.5 L199.8 683.5 L199.8 684 L197.8 684 L197.8 683.5 L197.2 683.5 L197.2 683 L196.8 683 L196.8 672.5 L192.2 672.5 L192.2 677.5 L191.8 677.5 L191.8 678.5 L190.8 678.5 L190.8 679 L189.2 679 L189.2 678.5 L188.2 678.5 L188.2 677.5 L187.8 677.5 L187.8 662.5 L184.8 662.5 L184.8 667.5 L184.2 667.5 L184.2 668.5 L183.2 668.5 L183.2 669 L181.8 669 L181.8 668.5 L180.8 668.5 L180.8 667.5 L180.2 667.5 L180.2 659 L174.2 659 L174.2 648 L165.2 648 L165.2 630 L159 630Z"/>
</g>
<g stroke="#000" stroke-width="2.22" fill="none">
<path d="M160 854v10"/>
<path d="M358 854v10"/>
<path d="M557 854v10"/>
<path d="M755 854v10"/>
<path d="M954 854v10"/>
<path d="M1152 854v10"/>
<path d="M160 759h-10"/>
<path d="M160 662h-10"/>
<path d="M160 564h-10"/>
<path d="M160 467h-10"/>
<path d="M160 369h-10"/>
<path d="M160 272h-10"/>
<path d="M160 175h-10"/>
<rect x="160" y="115" width="992" height="739"/>
</g>
<g font-family="'DejaVu Sans', 'Liberation Sans', sans-serif" font-weight="700" fill="#000">
<g font-size="30.556" text-anchor="middle">
<text x="160" y="897.06">0</text>
<text x="358.4" y="897.06">10000</text>
<text x="556.8" y="897.06">20000</text>
<text x="755.2" y="897.06">30000</text>
<text x="953.6" y="897.06">40000</text>
<text x="1152" y="897.06">50000</text>
</g>
<text x="656" y="941.2" font-size="36.111" text-anchor="middle">Raw data (E+04)</text>
<text transform="translate(46.2 485.9) rotate(-90)" font-size="36.111" text-anchor="middle">Mean Relative Error Distance</text>
<text font-size="30.556"><tspan x="64.9" y="771.1">10</tspan><tspan font-size="21.389" x="107.7" y="759.4">−2</tspan></text>
<text font-size="30.556"><tspan x="82.9" y="673.4">10</tspan><tspan font-size="21.389" x="125.7" y="661.7">4</tspan></text>
<text font-size="30.556"><tspan x="67.9" y="576.3">10</tspan><tspan font-size="21.389" x="110.7" y="564.6">10</tspan></text>
<text font-size="30.556"><tspan x="67.9" y="478.8">10</tspan><tspan font-size="21.389" x="110.7" y="467.1">16</tspan></text>
<text font-size="30.556"><tspan x="67.9" y="381.4">10</tspan><tspan font-size="21.389" x="110.7" y="369.8">22</tspan></text>
<text font-size="30.556"><tspan x="67.9" y="284">10</tspan><tspan font-size="21.389" x="110.7" y="272.3">28</tspan></text>
<text font-size="30.556"><tspan x="67.9" y="186.6">10</tspan><tspan font-size="21.389" x="110.7" y="174.9">34</tspan></text>
</g>
<rect x="958.51" y="748.6" width="179.6" height="92.5" rx="5.56" fill="#fff" fill-opacity="0.8" stroke="#ccc" stroke-opacity="0.8" stroke-width="2.78"/>
<path d="M969.6 772.0H1025.2" stroke="#1f77b4" stroke-width="4.17" stroke-linecap="square"/>
<path d="M969.6 813.9H1025.2" stroke="#ff0000" stroke-width="4.17" stroke-linecap="square"/>
<g font-family="'DejaVu Sans', 'Liberation Sans', sans-serif" font-weight="700" font-size="27.778" fill="#000">
<text x="1047.4" y="782.2">Float</text><text x="1047.4" y="822.8">Posit</text></g>
</svg>
</body></html>
